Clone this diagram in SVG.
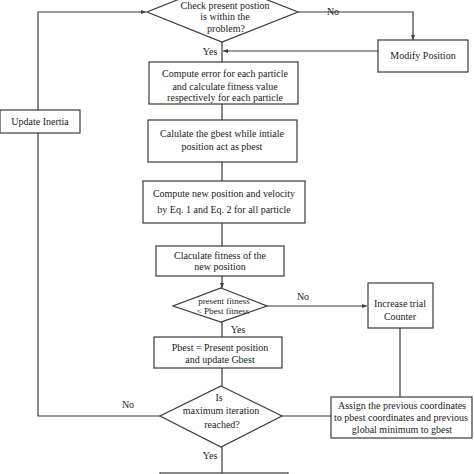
<svg xmlns="http://www.w3.org/2000/svg" width="474" height="474" viewBox="0 0 474 474">
<style>
.n{fill:#fff;stroke:#3a3a3a;stroke-width:1.2}
.c{fill:none;stroke:#3a3a3a;stroke-width:1.2}
text{font-family:"Liberation Serif","Times New Roman",serif;font-size:10px;fill:#222;text-anchor:middle}
.s{font-size:9px}
</style>
<defs>
<marker id="a" markerWidth="6" markerHeight="6" refX="5" refY="3" orient="auto" markerUnits="userSpaceOnUse">
<path d="M0,1 L5,3 L0,5 z" fill="#3a3a3a"/>
</marker>
</defs>
<rect width="474" height="474" fill="#fff"/>
<g id="connectors">
<path class="c" d="M38,110 V12 H146" marker-end="url(#a)"/>
<path class="c" d="M298,12 H413 V40" marker-end="url(#a)"/>
<path class="c" d="M378,51 H223" marker-end="url(#a)"/>
<path class="c" d="M222,42 V62"/>
<path class="c" d="M222,104 V120"/>
<path class="c" d="M222,162 V181"/>
<path class="c" d="M222,223 V246"/>
<path class="c" d="M222,276 V288" marker-end="url(#a)"/>
<path class="c" d="M267,306 H367" marker-end="url(#a)"/>
<path class="c" d="M222,322 V337"/>
<path class="c" d="M222,368 V386"/>
<path class="c" d="M400,328 V397"/>
<path class="c" d="M331,416 H282"/>
<path class="c" d="M38,133 V416 H160"/>
<path class="c" d="M222,447 V473"/>
<text x="333" y="15">No</text>
<text x="210" y="55">Yes</text>
<text x="303" y="300">No</text>
<text x="238" y="333">Yes</text>
<text x="128" y="408">No</text>
<text x="210" y="459">Yes</text>
</g>
<g id="check">
<polygon class="n" points="222,-18 298,12 222,42 147,12"/>
<text x="225" y="8.5">Check present postion</text>
<text x="225" y="20">is within the</text>
<text x="226" y="32">problem?</text>
</g>
<g id="modify">
<rect class="n" x="378" y="40" width="90" height="32"/>
<text x="423" y="59">Modify Position</text>
</g>
<g id="update-inertia">
<rect class="n" x="0" y="110" width="80" height="23"/>
<text x="40" y="124.5">Update Inertia</text>
</g>
<g id="compute-error">
<rect class="n" x="149" y="62" width="149" height="42"/>
<text x="225" y="77">Compute error for each particle</text>
<text x="225" y="89.5">and calculate fitness value</text>
<text x="225" y="101">respectively for each particle</text>
</g>
<g id="gbest">
<rect class="n" x="148" y="120" width="149" height="42"/>
<text x="222" y="136.5">Calulate the gbest while intiale</text>
<text x="222" y="150">position act as pbest</text>
</g>
<g id="compute-new">
<rect class="n" x="143" y="181" width="162" height="42"/>
<text x="224" y="197">Compute new position and velocity</text>
<text x="224" y="213">by Eq. 1 and Eq. 2 for all particle</text>
</g>
<g id="fitness">
<rect class="n" x="156" y="246" width="128" height="30"/>
<text x="220" y="259">Claculate fitness of the</text>
<text x="220" y="269.5">new position</text>
</g>
<g id="compare">
<polygon class="n" points="221,288 267,306 221,322 173,306"/>
<text class="s" x="224" y="304">present fitness</text>
<text class="s" x="223" y="313.5">&lt; Pbest fitness</text>
</g>
<g id="increase">
<rect class="n" x="368" y="283" width="65" height="45"/>
<text x="400" y="307">Increase trial</text>
<text x="400" y="319.5">Counter</text>
</g>
<g id="pbest">
<rect class="n" x="154" y="337" width="128" height="31"/>
<text x="220" y="350.5">Pbest = Present position</text>
<text x="220" y="362.5">and update Gbest</text>
</g>
<g id="max-iter">
<polygon class="n" points="221,386 282,416 221,447 160,416"/>
<text x="219" y="400.5">Is</text>
<text x="221" y="414">maximum iteration</text>
<text x="222" y="427.5">reached?</text>
</g>
<g id="assign">
<rect class="n" x="331" y="397" width="141" height="41"/>
<text x="402" y="408.5">Assign the previous coordinates</text>
<text x="401" y="421">to pbest coordinates and previous</text>
<text x="402" y="433">global minimum to gbest</text>
</g>
<g id="end">
<rect class="n" x="160" y="473" width="128" height="20" stroke-width="2"/>
</g>
</svg>
